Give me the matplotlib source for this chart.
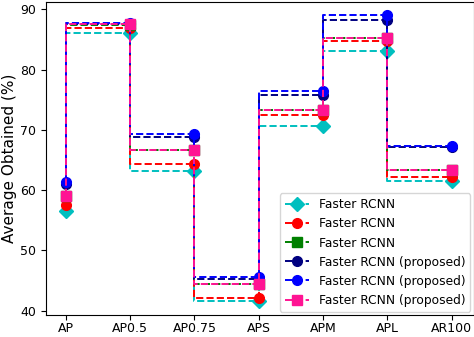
import matplotlib
matplotlib.use("Agg")
import matplotlib.pyplot as plt

# categories on x axis
metrics = ["AP", "AP0.5", "AP0.75", "APS", "APM", "APL", "AR100"]

# values
frcnn_a = [56.5, 86.1, 63.2, 41.6, 70.7, 83.1, 61.5]
frcnn_b = [57.6, 86.9, 64.4, 42.1, 72.4, 84.8, 62.1]
frcnn_c = [59.0, 87.4, 66.6, 44.4, 73.3, 85.3, 63.3]
prop_a = [61.0, 87.6, 68.8, 45.3, 75.8, 88.3, 67.2]
prop_b = [61.3, 87.8, 69.3, 45.6, 76.5, 89.1, 67.3]
prop_c = [59.0, 87.5, 66.6, 44.4, 73.3, 85.3, 63.3]

series = [
    (frcnn_a, "c", "D", "Faster RCNN"),
    (frcnn_b, "r", "o", "Faster RCNN"),
    (frcnn_c, "g", "s", "Faster RCNN"),
    (prop_a, "navy", "o", "Faster RCNN (proposed)"),
    (prop_b, "b", "o", "Faster RCNN (proposed)"),
    (prop_c, "deeppink", "s", "Faster RCNN (proposed)"),
]

fig = plt.figure(figsize=(4.74, 3.37), dpi=100)
ax = fig.add_axes([0.097, 0.064, 0.903, 0.93])

x = list(range(len(metrics)))
for vals, col, mk, lab in series:
    ax.plot(x, vals, drawstyle="steps-pre", linestyle="--", color=col,
            marker=mk, markersize=7, linewidth=1.4, label=lab)

ax.set_xticks(x)
ax.set_xticklabels(metrics, fontsize=9)
ax.tick_params(axis="x", pad=1.5)
ax.set_yticks([40, 50, 60, 70, 80, 90])
ax.tick_params(axis="y", labelsize=9)
ax.set_xlim(-0.31, 6.35)
ax.set_ylim(39.2, 91.2)
ax.set_ylabel("Average Obtained (%)", fontsize=11, labelpad=2)
ax.legend(loc="lower right", fontsize=8.8, handlelength=2.0, borderaxespad=0.3)

fig.savefig("out.png", dpi=100)
